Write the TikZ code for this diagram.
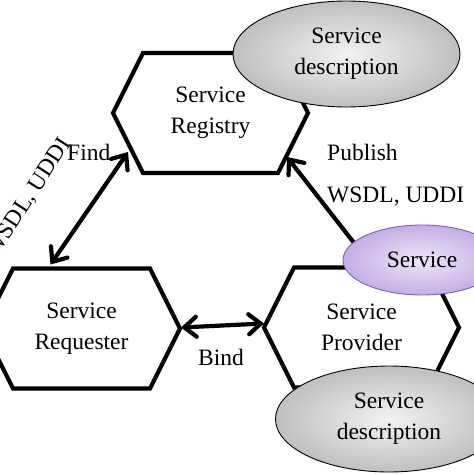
\documentclass[tikz,border=0pt]{standalone}
\usepackage{fontspec}
\setmainfont{Liberation Serif}
\usetikzlibrary{shapes.geometric,arrows.meta}
\definecolor{lavin}{HTML}{EEE6FA}
\definecolor{lavout}{HTML}{C4AEE4}
\definecolor{lavline}{HTML}{7F62B0}
\tikzset{
  txt/.style={font=\fontsize{23.5}{31}\selectfont},
  hexnode/.style={txt, minimum width=195pt, minimum height=120pt, inner sep=0pt, outer sep=0pt, align=center},
  hexline/.style={line width=4.2pt, line join=miter},
  arr/.style={line width=4.2pt, {Straight Barb[length=12pt,width=20pt,line cap=round]}-{Straight Barb[length=12pt,width=20pt,line cap=round]}},
  arrone/.style={line width=4.2pt, -{Straight Barb[length=12pt,width=20pt,line cap=round]}},
  graydesc/.style={txt, ellipse, draw=black, line width=0.9pt, inner color=gray!10, outer color=gray!50, minimum width=227pt, minimum height=106pt, inner sep=0pt, align=center},
  purpdesc/.style={txt, ellipse, draw=lavline, line width=0.9pt, inner color=lavin, outer color=lavout, minimum width=158pt, minimum height=70pt, inner sep=0pt, align=center},
  lbl/.style={txt, inner sep=0pt, anchor=base west}
}
\newcommand\hexdraw[1]{\draw[hexline] (#1.west) -- ([shift={(30,0)}]#1.north west) -- ([shift={(-30,0)}]#1.north east) -- (#1.east) -- ([shift={(-30,0)}]#1.south east) -- ([shift={(30,0)}]#1.south west) -- cycle;}
\begin{document}
\begin{tikzpicture}[x=1pt,y=-1pt]
\useasboundingbox (0,0) rectangle (474,474);
% hexagon nodes
\node[hexnode] (reg) at (210.5,113) {Service\\Registry};
\node[hexnode, minimum width=197pt] (req) at (81.5,328.5) {Service\\Requester};
\node[hexnode] (prov) at (361.5,327.5) {Service\\Provider};
\hexdraw{reg}
\hexdraw{req}
\hexdraw{prov}
% connectors
\coordinate (pubtail) at (358,248);
\draw[arr] ([shift={(-31,-4)}]req.north) -- ([shift={(15,39)}]reg.west);
\draw[arrone] (pubtail) -- ([shift={(-21,44)}]reg.east);
\draw[arr] ([shift={(1,-1)}]req.east) -- ([shift={(0,-4)}]prov.west);
% labels
\node[lbl] (lfind) at (67,160) {Find};
\node[lbl] (lpub) at (327,160) {Publish};
\node[lbl] (lwsdlr) at (327,202) {WSDL, UDDI};
\node[lbl] (lbind) at (198,365) {Bind};
\node[txt, inner sep=0pt, rotate=57] (lwsdll) at (29,198) {WSDL, UDDI};
% ellipses
\node[graydesc] (sd1) at (346.5,54) {Service\\description};
\node[purpdesc] (svc) at (422,260) {Service};
\node[graydesc] (sd2) at (389,419) {Service\\description};
\end{tikzpicture}
\end{document}
